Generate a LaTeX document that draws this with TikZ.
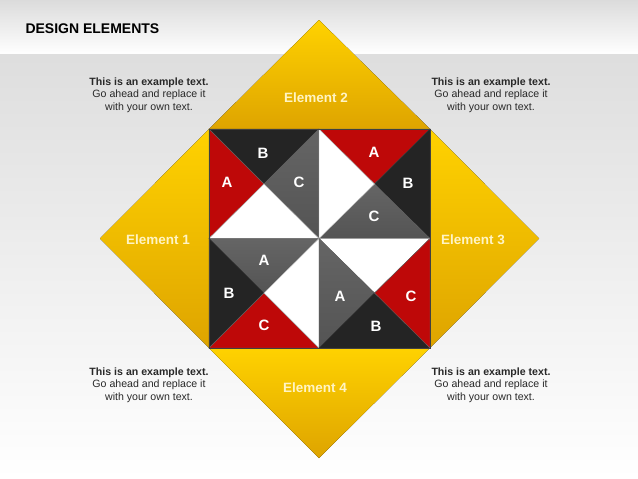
\documentclass[tikz,border=0pt]{standalone}
\usepackage{fontspec}
\setmainfont{Liberation Sans}
\definecolor{goldtop}{RGB}{255,210,0}
\definecolor{goldbot}{RGB}{222,164,0}
\definecolor{tired}{RGB}{222,30,24}
\definecolor{tireddark}{RGB}{190,8,8}
\definecolor{tidark}{RGB}{36,36,36}
\definecolor{tigray}{RGB}{84,84,84}
\definecolor{cream}{RGB}{255,244,196}
\definecolor{bodygray}{RGB}{40,40,40}

\begin{document}
\begin{tikzpicture}[x=1pt, y=-1pt,
    yellowtri/.style={top color=goldtop, bottom color=goldbot},
    redtri/.style={top color=tireddark, middle color=tired, bottom color=tireddark, draw=black!60, line width=0.4pt},
    darktri/.style={fill=tidark, draw=black!80, line width=0.4pt},
    graytri/.style={top color=tigray!90, bottom color=tigray, draw=black!60, line width=0.4pt},
    whitetri/.style={fill=white, draw=black!30, line width=0.4pt},
    letter/.style={text=white, font=\fontsize{15}{15}\bfseries\selectfont},
    elemlabel/.style={text=cream, font=\fontsize{13.5}{14}\bfseries\selectfont},
    bodytext/.style={text=bodygray, align=center, font=\fontsize{10.6}{12.4}\selectfont}]
    % fix the page size
    \useasboundingbox (0,0) rectangle (638,479);
    % background: header band and lower area
    \fill[top color=black!14, bottom color=white] (0,0) rectangle (638,54);
    \fill[top color=black!13, bottom color=white] (0,54) rectangle (638,479);
    \node[anchor=west, font=\fontsize{14}{14}\bfseries\selectfont] (title) at (22,29) {DESIGN ELEMENTS};

    % corners of the square
    \coordinate (tl) at (209,129);
    \coordinate (tm) at (319,129);
    \coordinate (tr) at (430,129);
    \coordinate (ml) at (209,238.5);
    \coordinate (mm) at (319,238.5);
    \coordinate (mr) at (430,238.5);
    \coordinate (bl) at (209,348);
    \coordinate (bm) at (319,348);
    \coordinate (br) at (430,348);
    % centres of the four quarters
    \coordinate (c1) at (264,184);
    \coordinate (c2) at (374.5,184);
    \coordinate (c3) at (264,293);
    \coordinate (c4) at (374.5,293);

    % outer diamond (four yellow triangles)
    \fill[yellowtri] (tl) -- (319,20) -- (tr) -- cycle;
    \fill[yellowtri] (tr) -- (539,238.5) -- (br) -- cycle;
    \fill[yellowtri] (bl) -- (319,458) -- (br) -- cycle;
    \fill[yellowtri] (tl) -- (100,238.5) -- (bl) -- cycle;

    % top left quarter
    \filldraw[darktri]  (tl) -- (tm) -- (c1) -- cycle;
    \filldraw[redtri]   (tl) -- (ml) -- (c1) -- cycle;
    \filldraw[graytri]  (tm) -- (mm) -- (c1) -- cycle;
    \filldraw[whitetri] (ml) -- (mm) -- (c1) -- cycle;
    % top right quarter
    \filldraw[redtri]   (tm) -- (tr) -- (c2) -- cycle;
    \filldraw[darktri]  (tr) -- (mr) -- (c2) -- cycle;
    \filldraw[graytri]  (mm) -- (mr) -- (c2) -- cycle;
    \filldraw[whitetri] (tm) -- (mm) -- (c2) -- cycle;
    % bottom left quarter
    \filldraw[graytri]  (ml) -- (mm) -- (c3) -- cycle;
    \filldraw[darktri]  (ml) -- (bl) -- (c3) -- cycle;
    \filldraw[redtri]   (bl) -- (bm) -- (c3) -- cycle;
    \filldraw[whitetri] (mm) -- (bm) -- (c3) -- cycle;
    % bottom right quarter
    \filldraw[whitetri] (mm) -- (mr) -- (c4) -- cycle;
    \filldraw[graytri]  (mm) -- (bm) -- (c4) -- cycle;
    \filldraw[darktri]  (bm) -- (br) -- (c4) -- cycle;
    \filldraw[redtri]   (mr) -- (br) -- (c4) -- cycle;
    % square border
    \draw[black!75, line width=0.8pt] (tl) rectangle (br);

    % letters in the quarters
    \node[letter] (b1) at (263,153) {B};
    \node[letter] (a1) at (227,182) {A};
    \node[letter] (cc1) at (299,182) {C};
    \node[letter] (a2) at (374,152) {A};
    \node[letter] (b2) at (408,183) {B};
    \node[letter] (cc2) at (374,216) {C};
    \node[letter] (a3) at (264,260) {A};
    \node[letter] (b3) at (229,293) {B};
    \node[letter] (cc3) at (264,325) {C};
    \node[letter] (a4) at (340,296) {A};
    \node[letter] (b4) at (376,326) {B};
    \node[letter] (cc4) at (411,296) {C};

    % element labels
    \node[elemlabel] (e1) at (158,240) {Element 1};
    \node[elemlabel] (e2) at (316,98) {Element 2};
    \node[elemlabel] (e3) at (473,240) {Element 3};
    \node[elemlabel] (e4) at (315,388) {Element 4};

    % example texts
    \node[bodytext] (t1) at (149,95) {\textbf{This is an example text.}\\Go ahead and replace it\\with your own text.};
    \node[bodytext] (t2) at (491,95) {\textbf{This is an example text.}\\Go ahead and replace it\\with your own text.};
    \node[bodytext] (t3) at (149,385) {\textbf{This is an example text.}\\Go ahead and replace it\\with your own text.};
    \node[bodytext] (t4) at (491,385) {\textbf{This is an example text.}\\Go ahead and replace it\\with your own text.};
\end{tikzpicture}
\end{document}
